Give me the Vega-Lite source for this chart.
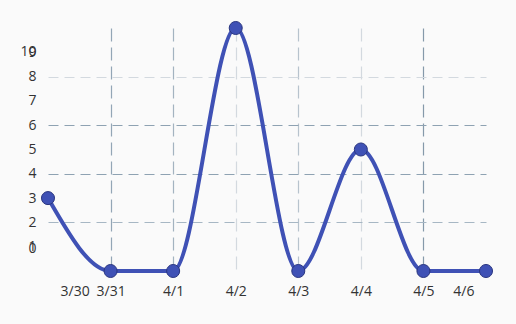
{
  "$schema": "https://vega.github.io/schema/vega-lite/v6.json",
  "width": 438,
  "height": 243,
  "autosize": "none",
  "padding": {"left": 48, "top": 28, "right": 30, "bottom": 53},
  "background": "#fafafa",
  "config": {"view": {"stroke": null}, "font": "Open Sans"},
  "data": {"values": [
    {"date": "3/30", "value": 3},
    {"date": "3/31", "value": 0},
    {"date": "4/1", "value": 0},
    {"date": "4/2", "value": 10},
    {"date": "4/3", "value": 0},
    {"date": "4/4", "value": 5},
    {"date": "4/5", "value": 0},
    {"date": "4/6", "value": 0}
  ]},
  "encoding": {
    "x": {"field": "date", "type": "ordinal", "sort": null,
      "scale": {"type": "point", "padding": 0},
      "axis": {"title": null, "labelAngle": 0, "domain": false, "ticks": false,
        "labelFontSize": 14, "labelColor": "#333", "labelPadding": 13, "labelOverlap": false,
        "labelFlush": true, "labelFlushOffset": -12,
        "grid": true, "gridDash": [13, 6], "gridWidth": 1.2,
        "gridColor": {"condition": [
          {"test": "datum.value == '3/31'", "value": "#93a6b6"},
          {"test": "datum.value == '4/1'", "value": "#a3b3c0"},
          {"test": "datum.value == '4/3'", "value": "#b7c3cd"},
          {"test": "datum.value == '4/5'", "value": "#8599aa"}
        ], "value": "#d3d9df"},
        "gridOpacity": {"condition": {"test": "datum.value == '3/30' || datum.value == '4/6'", "value": 0}, "value": 1}
      }},
    "y": {"field": "value", "type": "quantitative",
      "scale": {"domain": [0, 10], "nice": false},
      "axis": {"title": null, "domain": false, "ticks": false, "values": [0,1,2,3,4,5,6,7,8,9,10],
        "labelFontSize": 14, "labelColor": "#333", "labelPadding": 12, "labelOverlap": false,
        "labelFlush": true, "labelFlushOffset": -16,
        "grid": true, "gridDash": [10, 6], "gridWidth": 1.2,
        "gridColor": {"condition": [
          {"test": "datum.value == 8", "value": "#d3d9df"},
          {"test": "datum.value == 2", "value": "#a7b7c4"}
        ], "value": "#8ea2b2"},
        "gridOpacity": {"condition": {"test": "datum.value % 2 == 1 || datum.value == 0 || datum.value == 10", "value": 0}, "value": 1}
      }}
  },
  "layer": [
    {"mark": {"type": "line", "interpolate": "monotone", "color": "#3f51b5", "strokeWidth": 4}},
    {"mark": {"type": "point", "filled": true, "size": 170, "color": "#3f51b5", "stroke": "#2a3680", "strokeWidth": 1, "opacity": 1}}
  ]
}
